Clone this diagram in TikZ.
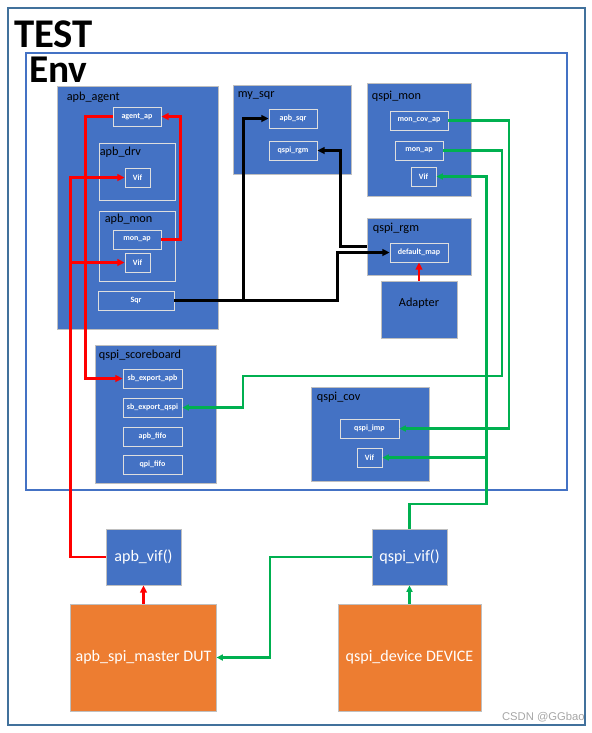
\documentclass[tikz,border=0pt]{standalone}
\usepackage{fontspec}
\setmainfont{Carlito}
\newfontfamily\wmfont{Liberation Sans}
\usetikzlibrary{arrows.meta,positioning,calc}
\definecolor{Blu}{RGB}{68,114,196}
\definecolor{Frame}{RGB}{65,113,156}
\definecolor{Edge}{RGB}{191,191,191}
\definecolor{PortEdge}{RGB}{222,222,222}
\definecolor{Orng}{RGB}{237,125,49}
\definecolor{Grn}{RGB}{0,176,80}
\definecolor{Rd}{RGB}{255,0,0}

\begin{document}
\begin{tikzpicture}[x=0.025cm, y=-0.025cm,
    sz/.style 2 args={minimum width=#1*0.025cm, minimum height=#2*0.025cm},
    blk/.style={rectangle, draw=Edge, fill=Blu, line width=0.6pt, inner sep=0pt},
    grp/.style={rectangle, draw=PortEdge, line width=0.6pt, inner sep=0pt},
    port/.style={rectangle, draw=PortEdge, line width=0.6pt, inner sep=0pt,
                 text=white, font=\fontsize{5.7}{6}\selectfont\bfseries},
    vifbox/.style={blk, text=white, font=\fontsize{11.4}{13}\selectfont},
    ext/.style={rectangle, draw=Edge, fill=Orng, line width=0.6pt,
                text=white, font=\fontsize{11.4}{13}\selectfont},
    ttl/.style 2 args={anchor=north west, inner sep=0pt, xshift=#1*0.025cm,
                       yshift=-#2*0.025cm, font=\fontsize{8.7}{10}\selectfont},
    big/.style 2 args={anchor=north west, inner sep=0pt, xshift=#1*0.025cm,
                       yshift=-#2*0.025cm, font=\fontsize{28}{28}\selectfont\bfseries},
    rarr/.style={-{Triangle[length=0.18cm,width=0.17cm]}, Rd, line width=1.6pt},
    barr/.style={-{Triangle[length=0.18cm,width=0.17cm]}, black, line width=1.6pt},
    garr/.style={-{Triangle[length=0.16cm,width=0.15cm]}, Grn, line width=1.5pt}]

  \useasboundingbox (0,0) rectangle (592,733);

  % frames
  \node[draw=Frame, line width=1.8pt, sz={577}{717}, label={[big={7}{14}, font=\fontsize{29}{29}\selectfont\bfseries]north west:TEST}] (test) at (296.5,366.5) {};
  \node[draw=Blu, line width=1.6pt, sz={541}{437}, label={[big={4}{5}]north west:Env}] (env) at (296.5,271.5) {};

  % apb_agent
  \node[blk, sz={161}{243}, label={[ttl={10}{6}]north west:apb\_agent}] (agent) at (137.5,207.5) {};
  \node[port, sz={48}{19}] (agentap) at (137,116.5) {agent\_ap};
  \node[grp, sz={76}{57}, label={[ttl={1}{4}]north west:apb\_drv}] (drv) at (137,171.5) {};
  \node[port, sz={25}{19}] (drvvif) at (137.5,177.5) {Vif};
  \node[grp, sz={76}{70}, label={[ttl={6}{3}]north west:apb\_mon}] (mon) at (137,246) {};
  \node[port, sz={48}{19}] (monap) at (137,239.5) {mon\_ap};
  \node[port, sz={25}{19}] (monvif) at (137.5,262.5) {Vif};
  \node[port, sz={76}{19}] (sqr) at (136,300.5) {Sqr};

  % my_sqr
  \node[blk, sz={118}{89}, label={[ttl={5}{7}]north west:my\_sqr}] (mysqr) at (292,129.5) {};
  \node[port, sz={48}{19}] (apbsqr) at (293,118.5) {apb\_sqr};
  \node[port, sz={48}{19}] (sqrrgm) at (293,150.5) {qspi\_rgm};

  % qspi_mon
  \node[blk, sz={104}{113}, label={[ttl={5}{8}]north west:qspi\_mon}] (qmon) at (419,139.5) {};
  \node[port, sz={58}{19}] (covap) at (419,120.5) {mon\_cov\_ap};
  \node[port, sz={48}{19}] (qmonap) at (419,150.5) {mon\_ap};
  \node[port, sz={25}{19}] (qmonvif) at (423.5,176.5) {Vif};

  % qspi_rgm
  \node[blk, sz={104}{57}, label={[ttl={6}{5}]north west:qspi\_rgm}] (qrgm) at (419,246.5) {};
  \node[port, sz={58}{19}] (defmap) at (419,252.5) {default\_map};
  \node[blk, sz={76}{57}, text depth=0.36cm, font=\fontsize{8.7}{10}\selectfont] (adapter) at (419,309.5) {Adapter};

  % qspi_scoreboard
  \node[blk, sz={121}{138}, label={[ttl={4}{5}]north west:qspi\_scoreboard}] (board) at (155.5,414) {};
  \node[port, sz={59}{19}] (sbapb) at (152.5,378.5) {sb\_export\_apb};
  \node[port, sz={59}{19}] (sbqspi) at (152.5,407.5) {sb\_export\_qspi};
  \node[port, sz={59}{19}] (apbfifo) at (152.5,436.5) {apb\_fifo};
  \node[port, sz={59}{19}] (qpififo) at (152.5,464.5) {qpi\_fifo};

  % qspi_cov
  \node[blk, sz={118}{94}, label={[ttl={6}{5}]north west:qspi\_cov}] (qcov) at (370,434) {};
  \node[port, sz={59}{19}] (qimp) at (369.5,428.5) {qspi\_imp};
  \node[port, sz={25}{19}] (qcovvif) at (369.5,457.5) {Vif};

  % interfaces and devices
  \node[vifbox, sz={75}{56}] (apbvif) at (143.5,557) {apb\_vif()};
  \node[vifbox, sz={75}{56}] (qspivif) at (409.5,557) {qspi\_vif()};
  \node[ext, sz={143}{107}] (dut) at (143.5,657.5) {apb\_spi\_master DUT};
  \node[ext, sz={143}{107}] (qdev) at (409.5,657.5) {qspi\_device DEVICE};

  % red links
  \draw[rarr] (agentap.west) -- ++(-27,0) |- (sbapb.west);
  \draw[rarr] (apbvif.west) -- ++(-35,0) coordinate (rbus) |- (drvvif.west);
  \draw[rarr] (rbus |- monvif.west) -- (monvif.west);
  \draw[rarr] (monap.east) -- ++(19,0) |- (agentap.east);
  \draw[rarr] (dut.north) -- (apbvif.south);
  \draw[rarr] (adapter.north) -- (defmap.south);

  % black links
  \draw[barr] (sqr.east) -- ++(69,0) coordinate (bsplit) |- (apbsqr.west);
  \draw[barr] (bsplit) -- ++(94,0) |- (defmap.west);
  \draw[barr] (qrgm.west) -- ++(-26,0) |- (sqrrgm.east);

  % green links
  \draw[garr] (covap.east) -- ++(61,0) |- (qimp.east);
  \draw[garr] (qmonap.east) -- ++(59,0) -- ++(0,225.5) -- ++(-259,0) |- (sbqspi.east);
  \draw[garr] (qspivif.north) -- ++(0,-25) -- ++(77,0) coordinate (gbus) |- (qmonvif.east);
  \draw[garr] (gbus |- qcovvif.east) -- (qcovvif.east);
  \draw[garr] (qdev.north) -- (qspivif.south);
  \draw[garr] (qspivif.west) -- ++(-102,0) |- (dut.east);

  \node[anchor=east, inner sep=0pt, text=black!35, font=\wmfont\fontsize{8}{9}\selectfont] (wm) at (585,717) {CSDN @GGbao};
\end{tikzpicture}
\end{document}
